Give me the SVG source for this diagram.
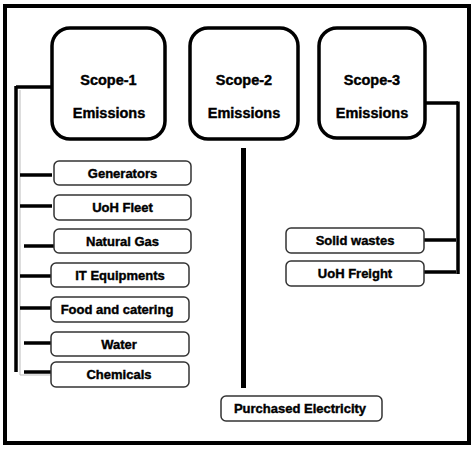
<svg xmlns="http://www.w3.org/2000/svg" width="474" height="449" viewBox="0 0 474 449">
<style>
.scope{fill:#fff;stroke:#000;stroke-width:3.5}
.item{fill:#fff;stroke:#333;stroke-width:1.5}
.t{font-family:"Liberation Sans",Arial,sans-serif;font-weight:bold;fill:#000;stroke:#000;stroke-width:0.4;text-anchor:middle}
.ts{font-size:14.5px}
.ti{font-size:13px}
.c{stroke:#000;stroke-width:3.5;fill:none}
.g{stroke:#bbb;stroke-width:1;fill:none}
</style>
<rect x="0" y="0" width="474" height="449" fill="#fff"/>
<rect x="5" y="6" width="464" height="437" fill="#fff" stroke="#000" stroke-width="4"/>
<g id="connectors">
<line class="g" x1="20" y1="90" x2="20" y2="375"/>
<line class="g" x1="20" y1="375" x2="52" y2="375"/>
<line class="c" x1="16" y1="87" x2="52" y2="87"/>
<line class="c" x1="16" y1="86" x2="16" y2="372"/>
<line class="c" x1="20" y1="175" x2="52" y2="175"/>
<line class="c" x1="20" y1="206" x2="52" y2="206"/>
<line class="c" x1="24" y1="246" x2="54" y2="246"/>
<line class="c" x1="20" y1="276" x2="51" y2="276"/>
<line class="c" x1="20" y1="308" x2="51" y2="308"/>
<line class="c" x1="24" y1="343" x2="51" y2="343"/>
<line class="c" x1="24" y1="372" x2="51" y2="372"/>
<line stroke="#000" stroke-width="5" x1="243.5" y1="148" x2="243.5" y2="388"/>
<line class="c" x1="425" y1="103" x2="458" y2="103"/>
<line class="c" x1="458" y1="101.5" x2="458" y2="274"/>
<line class="c" x1="424" y1="240" x2="456" y2="240"/>
<line class="c" x1="424" y1="272" x2="456" y2="272"/>
</g>
<g id="scope1">
<rect class="scope" x="52" y="28" width="113" height="111" rx="18"/>
<text class="t ts" x="108.5" y="85">Scope-1</text>
<text class="t ts" x="109" y="118">Emissions</text>
</g>
<g id="scope2">
<rect class="scope" x="190" y="28" width="108" height="111" rx="18"/>
<text class="t ts" x="244" y="85">Scope-2</text>
<text class="t ts" x="244" y="118">Emissions</text>
</g>
<g id="scope3">
<rect class="scope" x="319" y="28" width="106" height="110" rx="18"/>
<text class="t ts" x="372" y="85">Scope-3</text>
<text class="t ts" x="372" y="118">Emissions</text>
</g>
<g id="generators">
<rect class="item" x="54" y="161" width="137" height="24" rx="5"/>
<text class="t ti" x="122.5" y="177.5">Generators</text>
</g>
<g id="uoh-fleet">
<rect class="item" x="54" y="195" width="137" height="25" rx="5"/>
<text class="t ti" x="122.5" y="212">UoH Fleet</text>
</g>
<g id="natural-gas">
<rect class="item" x="54" y="229" width="137" height="24" rx="5"/>
<text class="t ti" x="122.5" y="245.5">Natural Gas</text>
</g>
<g id="it-equipments">
<rect class="item" x="51" y="263" width="138" height="24" rx="5"/>
<text class="t ti" x="120" y="280">IT Equipments</text>
</g>
<g id="food">
<rect class="item" x="51" y="297" width="138" height="25" rx="5"/>
<text class="t ti" x="117" y="314">Food and catering</text>
</g>
<g id="water">
<rect class="item" x="51" y="332" width="138" height="24" rx="5"/>
<text class="t ti" x="119" y="348.5">Water</text>
</g>
<g id="chemicals">
<rect class="item" x="51" y="362" width="138" height="25" rx="5"/>
<text class="t ti" x="119" y="378.5">Chemicals</text>
</g>
<g id="purchased-electricity">
<rect class="item" x="221" y="396" width="161" height="25" rx="5"/>
<text class="t ti" x="300" y="412.5">Purchased Electricity</text>
</g>
<g id="solid-wastes">
<rect class="item" x="286" y="228" width="138" height="25" rx="5"/>
<text class="t ti" x="355" y="245">Solid wastes</text>
</g>
<g id="uoh-freight">
<rect class="item" x="286" y="261" width="138" height="25" rx="5"/>
<text class="t ti" x="355" y="277.5">UoH Freight</text>
</g>
</svg>
